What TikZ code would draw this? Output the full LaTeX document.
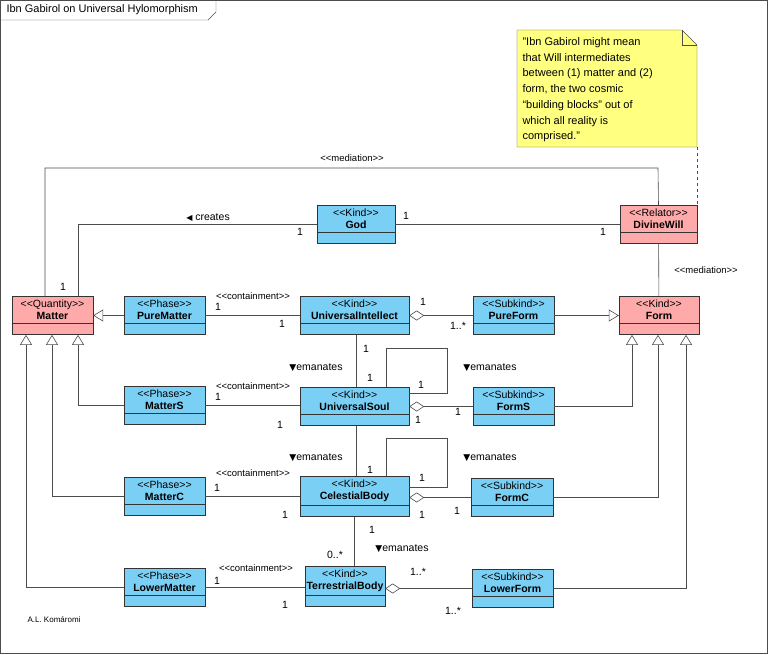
\documentclass[tikz,border=0pt]{standalone}
\usepackage{fontspec}
\setmainfont{Liberation Sans}[Ligatures=ResetAll]
\newfontfamily\symfont{DejaVu Sans}
\usetikzlibrary{shapes.multipart,arrows.meta}
\definecolor{kindblue}{RGB}{122,207,245}
\definecolor{relpink}{RGB}{255,170,170}
\definecolor{notey}{RGB}{255,255,128}
\newcommand{\dn}{{\symfont\small ▼}}
\newcommand{\lf}{{\symfont\footnotesize ◀}}
\newcommand{\st}[1]{<\kern0pt<#1>\kern0pt>}
\tikzset{
  cls/.style={rectangle split, rectangle split parts=2, draw=black!80, fill=kindblue,
    align=center, inner xsep=1pt, inner ysep=3pt, font=\fontsize{10.5}{12.5}\selectfont},
  rel/.style={cls, fill=relpink},
  line/.style={draw=black!70, line width=0.6pt},
  gen/.style={line, -{Triangle[open,length=10pt,width=12pt]}},
  agg/.style={line, -{Diamond[open,length=15pt,width=10pt]}},
  mult/.style={font=\fontsize{10.5}{12}\selectfont},
  ster/.style={font=\fontsize{9.5}{11}\selectfont},
}
\begin{document}
\begin{tikzpicture}[x=1pt,y=-1pt]
  \useasboundingbox (0,0) rectangle (768,654);
  \draw[black!70] (0.5,0.5) rectangle (767.5,653.5);
  \draw[black!70] (0.5,20) -- (208,20) -- (216,12) -- (216,0.5);
  \node[anchor=west, font=\fontsize{11}{12}\selectfont] at (3,10) {Ibn Gabirol on Universal Hylomorphism};

  % classes
  \node[rel, minimum width=81pt] (matter) at (52.5,315.5) {\st{Quantity}\\\textbf{Matter}\nodepart{two}};
  \node[cls, minimum width=81pt] (puremat) at (164.5,315.5) {\st{Phase}\\\textbf{PureMatter}\nodepart{two}};
  \node[cls, minimum width=109pt] (intel) at (354.5,315.5) {\st{Kind}\\\textbf{UniversalIntellect}\nodepart{two}};
  \node[cls, minimum width=81pt] (pureform) at (513.5,315.5) {\st{Subkind}\\\textbf{PureForm}\nodepart{two}};
  \node[rel, minimum width=80pt] (form) at (659,315.5) {\st{Kind}\\\textbf{Form}\nodepart{two}};
  \node[cls, minimum width=78pt] (god) at (356,224.5) {\st{Kind}\\\textbf{God}\nodepart{two}};
  \node[rel, minimum width=77pt] (will) at (658.5,224.5) {\st{Relator}\\\textbf{DivineWill}\nodepart{two}};
  \node[cls, minimum width=81pt] (matters) at (164.5,405.5) {\st{Phase}\\\textbf{MatterS}\nodepart{two}};
  \node[cls, minimum width=109pt] (soul) at (354.5,406.5) {\st{Kind}\\\textbf{UniversalSoul}\nodepart{two}};
  \node[cls, minimum width=81pt] (forms) at (513.5,406.5) {\st{Subkind}\\\textbf{FormS}\nodepart{two}};
  \node[cls, minimum width=81pt] (matterc) at (164.5,496.5) {\st{Phase}\\\textbf{MatterC}\nodepart{two}};
  \node[cls, minimum width=109pt] (celest) at (354.5,496.5) {\st{Kind}\\\textbf{CelestialBody}\nodepart{two}};
  \node[cls, minimum width=82pt] (formc) at (512,497.5) {\st{Subkind}\\\textbf{FormC}\nodepart{two}};
  \node[cls, minimum width=81pt] (lowmat) at (164.5,587.5) {\st{Phase}\\\textbf{LowerMatter}\nodepart{two}};
  \node[cls, minimum width=80pt] (terr) at (345,586.5) {\st{Kind}\\\textbf{TerrestrialBody}\nodepart{two}};
  \node[cls, minimum width=81pt] (lowform) at (512.5,588.5) {\st{Subkind}\\\textbf{LowerForm}\nodepart{two}};

  % note
  \draw[black!70, fill=notey] (517,30) -- (682,30) -- (697,45) -- (697,147) -- (517,147) -- cycle;
  \draw[black!70] (682,30) -- (682,45) -- (697,45);
  \node[anchor=north west, align=left, font=\fontsize{11}{15.7}\selectfont] (note) at (519,34)
    {"Ibn Gabirol might mean\\that Will intermediates\\between (1) matter and (2)\\form, the two cosmic\\“building blocks” out of\\which all reality is\\comprised."};
  \coordinate (notefoot) at (697,147);
  \draw[line, dashed] (notefoot) -- (will.north east -| notefoot);

  % generalizations
  \draw[gen] (puremat) -- (matter);
  \draw[gen] (matters.west) -| (matter.south -| 78,0);
  \draw[gen] (matterc.west) -| (matter.south -| 52,0);
  \draw[gen] (lowmat.west) -| (matter.south -| 26,0);
  \draw[gen] (pureform) -- (form);
  \draw[gen] (forms.east) -| (form.south -| 632,0);
  \draw[gen] (formc.east) -| (form.south -| 658,0);
  \draw[gen] (lowform.east) -| (form.south -| 686,0);

  % mediations and creates
  \draw[line] (matter.north -| 45,0) |- (658,168) -- (will.north);
  \node[ster] at (352,158) {\st{mediation}};
  \draw[line] (will) -- (form);
  \node[ster] at (706,270) {\st{mediation}};
  \draw[line] (god.west) -| (matter.north -| 78,0);
  \node[fill=white, mult, inner ysep=1pt] at (208,218) {\lf\ creates};
  \node[mult] at (300,232) {1};
  \node[mult] at (63,287) {1};
  \draw[line] (god) -- (will);
  \node[mult] at (406,216) {1};
  \node[mult] at (603,232) {1};

  % containments
  \draw[line] (puremat) -- (intel);
  \node[ster] at (253,296) {\st{containment}};
  \node[mult] at (218,307) {1};
  \node[mult] at (282,324) {1};
  \draw[line] (matters) -- (soul.west |- matters);
  \node[ster] at (253,386) {\st{containment}};
  \node[mult] at (218,397) {1};
  \node[mult] at (280,425) {1};
  \draw[line] (matterc) -- (celest);
  \node[ster] at (253,473) {\st{containment}};
  \node[mult] at (217,488) {1};
  \node[mult] at (285,515) {1};
  \draw[line] (lowmat) -- (terr.west |- lowmat);
  \node[ster] at (256,568) {\st{containment}};
  \node[mult] at (217,581) {1};
  \node[mult] at (285,605) {1};

  % aggregations
  \draw[agg] (pureform) -- (intel);
  \node[mult] at (423,302) {1};
  \node[mult] at (458,326) {1..*};
  \draw[agg] (forms) -- (soul);
  \node[mult] at (418,420) {1};
  \node[mult] at (458,412) {1};
  \draw[agg] (formc) -- (celest.east |- formc);
  \node[mult] at (422,515) {1};
  \node[mult] at (457,511) {1};
  \draw[agg] (lowform) -- (terr.east |- lowform);
  \node[mult] at (418,572) {1..*};
  \node[mult] at (453,611) {1..*};

  % emanations
  \draw[line] (intel.south -| 356,0) -- (soul.north -| 356,0);
  \node[mult] at (366,349) {1};
  \node[mult] at (370,378) {1};
  \node[mult] at (316,368) {\dn emanates};
  \draw[line] (soul.north -| 386,0) |- (447,348) |- (soul.east |- 0,393);
  \node[mult] at (421,385) {1};
  \node[mult] at (490,368) {\dn emanates};
  \draw[line] (soul.south -| 356,0) -- (celest.north -| 356,0);
  \node[mult] at (370,470) {1};
  \node[mult] at (316,458) {\dn emanates};
  \draw[line] (celest.north -| 386,0) |- (447,438) |- (celest.east |- 0,487);
  \node[mult] at (422,478) {1};
  \node[mult] at (490,458) {\dn emanates};
  \draw[line] (celest.south -| 354,0) -- (terr.north -| 354,0);
  \node[mult] at (372,530) {1};
  \node[mult] at (335,555) {0..*};
  \node[mult] at (402,549) {\dn emanates};

  \node[font=\fontsize{8}{9}\selectfont] at (54,620) {A.L. Komáromi};
\end{tikzpicture}
\end{document}
